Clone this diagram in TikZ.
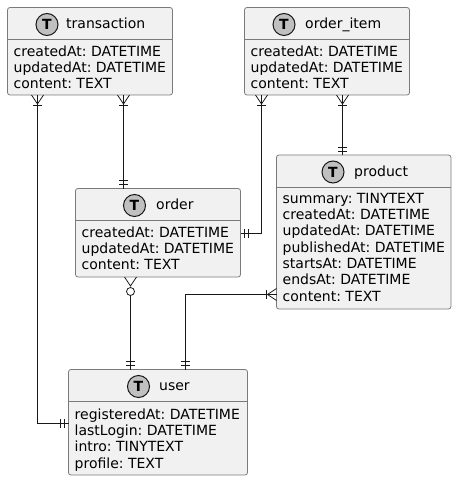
\documentclass[tikz,border=0pt]{standalone}
\usepackage{fontspec}
\setmainfont{DejaVu Sans}
\usetikzlibrary{calc}
\frenchspacing
\definecolor{ink}{HTML}{181818}
\definecolor{edge}{HTML}{7A7A7A}
\definecolor{boxfill}{HTML}{F1F1F1}
\definecolor{spot}{HTML}{C0C0C0}
\tikzset{
  entity/.style={draw=edge,line width=0.8pt,fill=boxfill,rounded corners=2.5pt,inner sep=0pt,outer sep=0pt,anchor=north west},
  divider/.style={draw=edge,line width=0.8pt},
  badge/.style={circle,draw=ink,line width=1pt,fill=spot,minimum size=22pt,inner sep=0pt,text=black,font=\fontsize{14}{14}\selectfont\bfseries},
  titletext/.style={anchor=base west,inner sep=0pt,text=black,font=\fontsize{14}{16}\selectfont\frenchspacing},
  attrs/.style={anchor=north west,inner sep=0pt,align=left,text=black,font=\fontsize{14}{16.3}\selectfont\frenchspacing},
  link/.style={draw=ink,line width=1.1pt},
  mark line/.style={draw=ink,line width=0.8pt},
  pics/crow/.style={code={
    \draw[mark line] (-6,0) -- (0,9) -- (6,0);
    \draw[mark line] (-4.5,10) -- (4.5,10);
  }},
  pics/crowo/.style={code={
    \draw[mark line] (-6,0) -- (0,9) -- (6,0);
    \draw[mark line,fill=white] (0,14.5) circle (4);
  }},
  pics/onlyone/.style={code={
    \draw[mark line] (-4.5,4) -- (4.5,4);
    \draw[mark line] (-4.5,8) -- (4.5,8);
  }},
}
\newcommand{\entitybox}[8]{% id,x,y,w,h,badge x offset,title x offset,title
  \node[entity,minimum width=#4pt,minimum height=#5pt] (#1) at (#2,#3) {};
  \draw[divider] ($(#1.north west)+(0,32)$) -- ($(#1.north east)+(0,32)$);
  \node[badge] (#1b) at ($(#1.north west)+(#6,17)$) {T};
  \node[titletext] (#1t) at ($(#1.north west)+(#7,21)$) {#8};
}
\begin{document}
\begin{tikzpicture}[x=1pt,y=-1pt]
\useasboundingbox (0,0) rectangle (457,481);
\entitybox{transaction}{7.5}{7.5}{165}{87.5}{39.5}{58.5}{transaction}
\entitybox{order}{75.5}{188.5}{165}{88.5}{59}{80.5}{order}
\entitybox{orderitem}{244.5}{7.5}{165}{87.5}{39.5}{60.5}{order\_item}
\entitybox{product}{276.5}{155}{174.5}{154}{56.5}{77.5}{product}
\entitybox{user}{68.5}{369.5}{179}{105.5}{70}{90.5}{user}
\node[attrs] (transactiona) at ($(transaction.north west)+(6,37.8)$) {createdAt: DATETIME\\updatedAt: DATETIME\\content: TEXT};
\node[attrs] (ordera) at ($(order.north west)+(6,37.8)$) {createdAt: DATETIME\\updatedAt: DATETIME\\content: TEXT};
\node[attrs] (orderitema) at ($(orderitem.north west)+(6,37.8)$) {createdAt: DATETIME\\updatedAt: DATETIME\\content: TEXT};
\node[attrs] (producta) at ($(product.north west)+(6,37.8)$) {summary: TINYTEXT\\createdAt: DATETIME\\updatedAt: DATETIME\\publishedAt: DATETIME\\startsAt: DATETIME\\endsAt: DATETIME\\content: TEXT};
\node[attrs] (usera) at ($(user.north west)+(6,38.8)$) {registeredAt: DATETIME\\lastLogin: DATETIME\\intro: TINYTEXT\\profile: TEXT};
% ports
\coordinate (t1) at ($(transaction.south west)+(30,0)$);
\coordinate (t2) at ($(transaction.south west)+(116,0)$);
\coordinate (o1) at (t2 |- order.north);
\coordinate (oi1) at ($(orderitem.south west)+(17,0)$);
\coordinate (oi2) at ($(orderitem.south west)+(98,0)$);
\coordinate (p1) at (oi2 |- product.north);
\coordinate (o2) at ($(order.north east)+(0,45)$);
\coordinate (o3) at ($(order.south west)+(55,0)$);
\coordinate (u1) at (o3 |- user.north);
\coordinate (u2) at ($(user.north west)+(117,0)$);
\coordinate (p2) at ($(product.north west)+(0,139.5)$);
\coordinate (u3) at ($(user.north west)+(0,54)$);
% connectors
\draw[link] (t1) -- (t1 |- u3) -- (u3);
\draw[link] (t2) -- (o1);
\draw[link] (oi1) -- (oi1 |- o2) -- (o2);
\draw[link] (oi2) -- (p1);
\draw[link] ($(o3)+(0,19)$) -- (u1);
\draw[link] (u2) -- (u2 |- p2) -- (p2);
% markers
\path (t1) pic {crow};
\path (t2) pic {crow};
\path (oi1) pic {crow};
\path (oi2) pic {crow};
\path (o3) pic {crowo};
\path (p2) pic[rotate=-90] {crow};
\path (o1) pic[rotate=180] {onlyone};
\path (p1) pic[rotate=180] {onlyone};
\path (u1) pic[rotate=180] {onlyone};
\path (u2) pic[rotate=180] {onlyone};
\path (o2) pic[rotate=90] {onlyone};
\path (u3) pic[rotate=-90] {onlyone};
\end{tikzpicture}
\end{document}
